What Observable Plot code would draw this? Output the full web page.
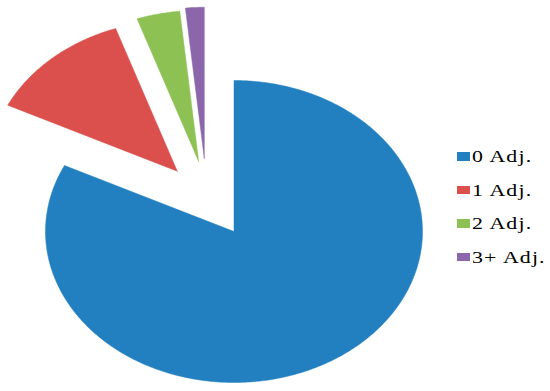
<!DOCTYPE html>
<html>
<head>
<meta charset="utf-8">
<script src="https://cdn.jsdelivr.net/npm/d3@7"></script>
<script src="https://cdn.jsdelivr.net/npm/@observablehq/plot@0.6"></script>
<style>
  html, body { margin: 0; padding: 0; background: #ffffff; }
  #chart { position: relative; width: 550px; height: 391px; overflow: hidden; }
  #chart svg { position: absolute; left: 0; top: 0; }
  #legend { position: absolute; left: 457px; top: 0; font-family: "Liberation Serif", "Times New Roman", serif; }
  .item { position: absolute; left: 0; height: 22px; display: flex; align-items: center; white-space: nowrap; }
  .sw { width: 13px; height: 8.5px; flex: none; }
  .lab { font-size: 17.5px; letter-spacing: 0.9px; color: #000; margin-left: 2px; transform: scaleX(1.25); transform-origin: left center; line-height: normal; }
</style>
</head>
<body>
<div id="chart"><div id="legend"></div></div>
<script>
// ---- data ----
const categories = ["0 Adj.", "1 Adj.", "2 Adj.", "3+ Adj."];
const shares = [82.2, 12.5, 3.7, 1.6];

// ---- style ----
const colors = ["#2380C0", "#DB504D", "#8DC153", "#8B66AB"];
// explosion of each slice: distance (in radii) and direction (degrees clockwise from 12 o'clock)
const explode = [
  {dist: 0, dir: 0},
  {dist: 0.5, dir: 323},
  {dist: 0.5, dir: 338},
  {dist: 0.51, dir: 342}
];

// ---- build slice outlines from the shares ----
const arcs = d3.pie().sort(null).value(d => d)(shares);
const points = [];
arcs.forEach((a, i) => {
  const e = explode[i];
  const dr = e.dir * Math.PI / 180;
  const ox = e.dist * Math.sin(dr), oy = e.dist * Math.cos(dr);
  const slice = categories[i];
  points.push({slice, x: ox, y: oy});
  const n = Math.max(2, Math.ceil((a.endAngle - a.startAngle) / (Math.PI / 360)));
  for (let k = 0; k <= n; k++) {
    const t = a.startAngle + (a.endAngle - a.startAngle) * k / n;
    points.push({slice, x: ox + Math.sin(t), y: oy + Math.cos(t)});
  }
  points.push({slice, x: ox, y: oy});
});

const W = 550, H = 391, cx = 233.5, cy = 231, rx = 188.5, ry = 151;

const plot = Plot.plot({
  width: W,
  height: H,
  margin: 0,
  x: {domain: [-cx / rx, (W - cx) / rx], axis: null},
  y: {domain: [-(H - cy) / ry, cy / ry], axis: null},
  color: {domain: categories, range: colors},
  marks: [
    Plot.line(points, {x: "x", y: "y", z: "slice", fill: "slice", stroke: "slice", strokeWidth: 0.5, curve: "linear"})
  ]
});
document.getElementById("chart").prepend(plot);

// ---- legend ----
const legend = document.getElementById("legend");
const rowY = [156.3, 190.0, 223.6, 257.2];
categories.forEach((c, i) => {
  const item = document.createElement("div");
  item.className = "item";
  item.style.top = (rowY[i] - 11) + "px";
  const sw = document.createElement("span");
  sw.className = "sw";
  sw.style.background = colors[i];
  const lab = document.createElement("span");
  lab.className = "lab";
  lab.textContent = c;
  item.appendChild(sw);
  item.appendChild(lab);
  legend.appendChild(item);
});
</script>
</body>
</html>
